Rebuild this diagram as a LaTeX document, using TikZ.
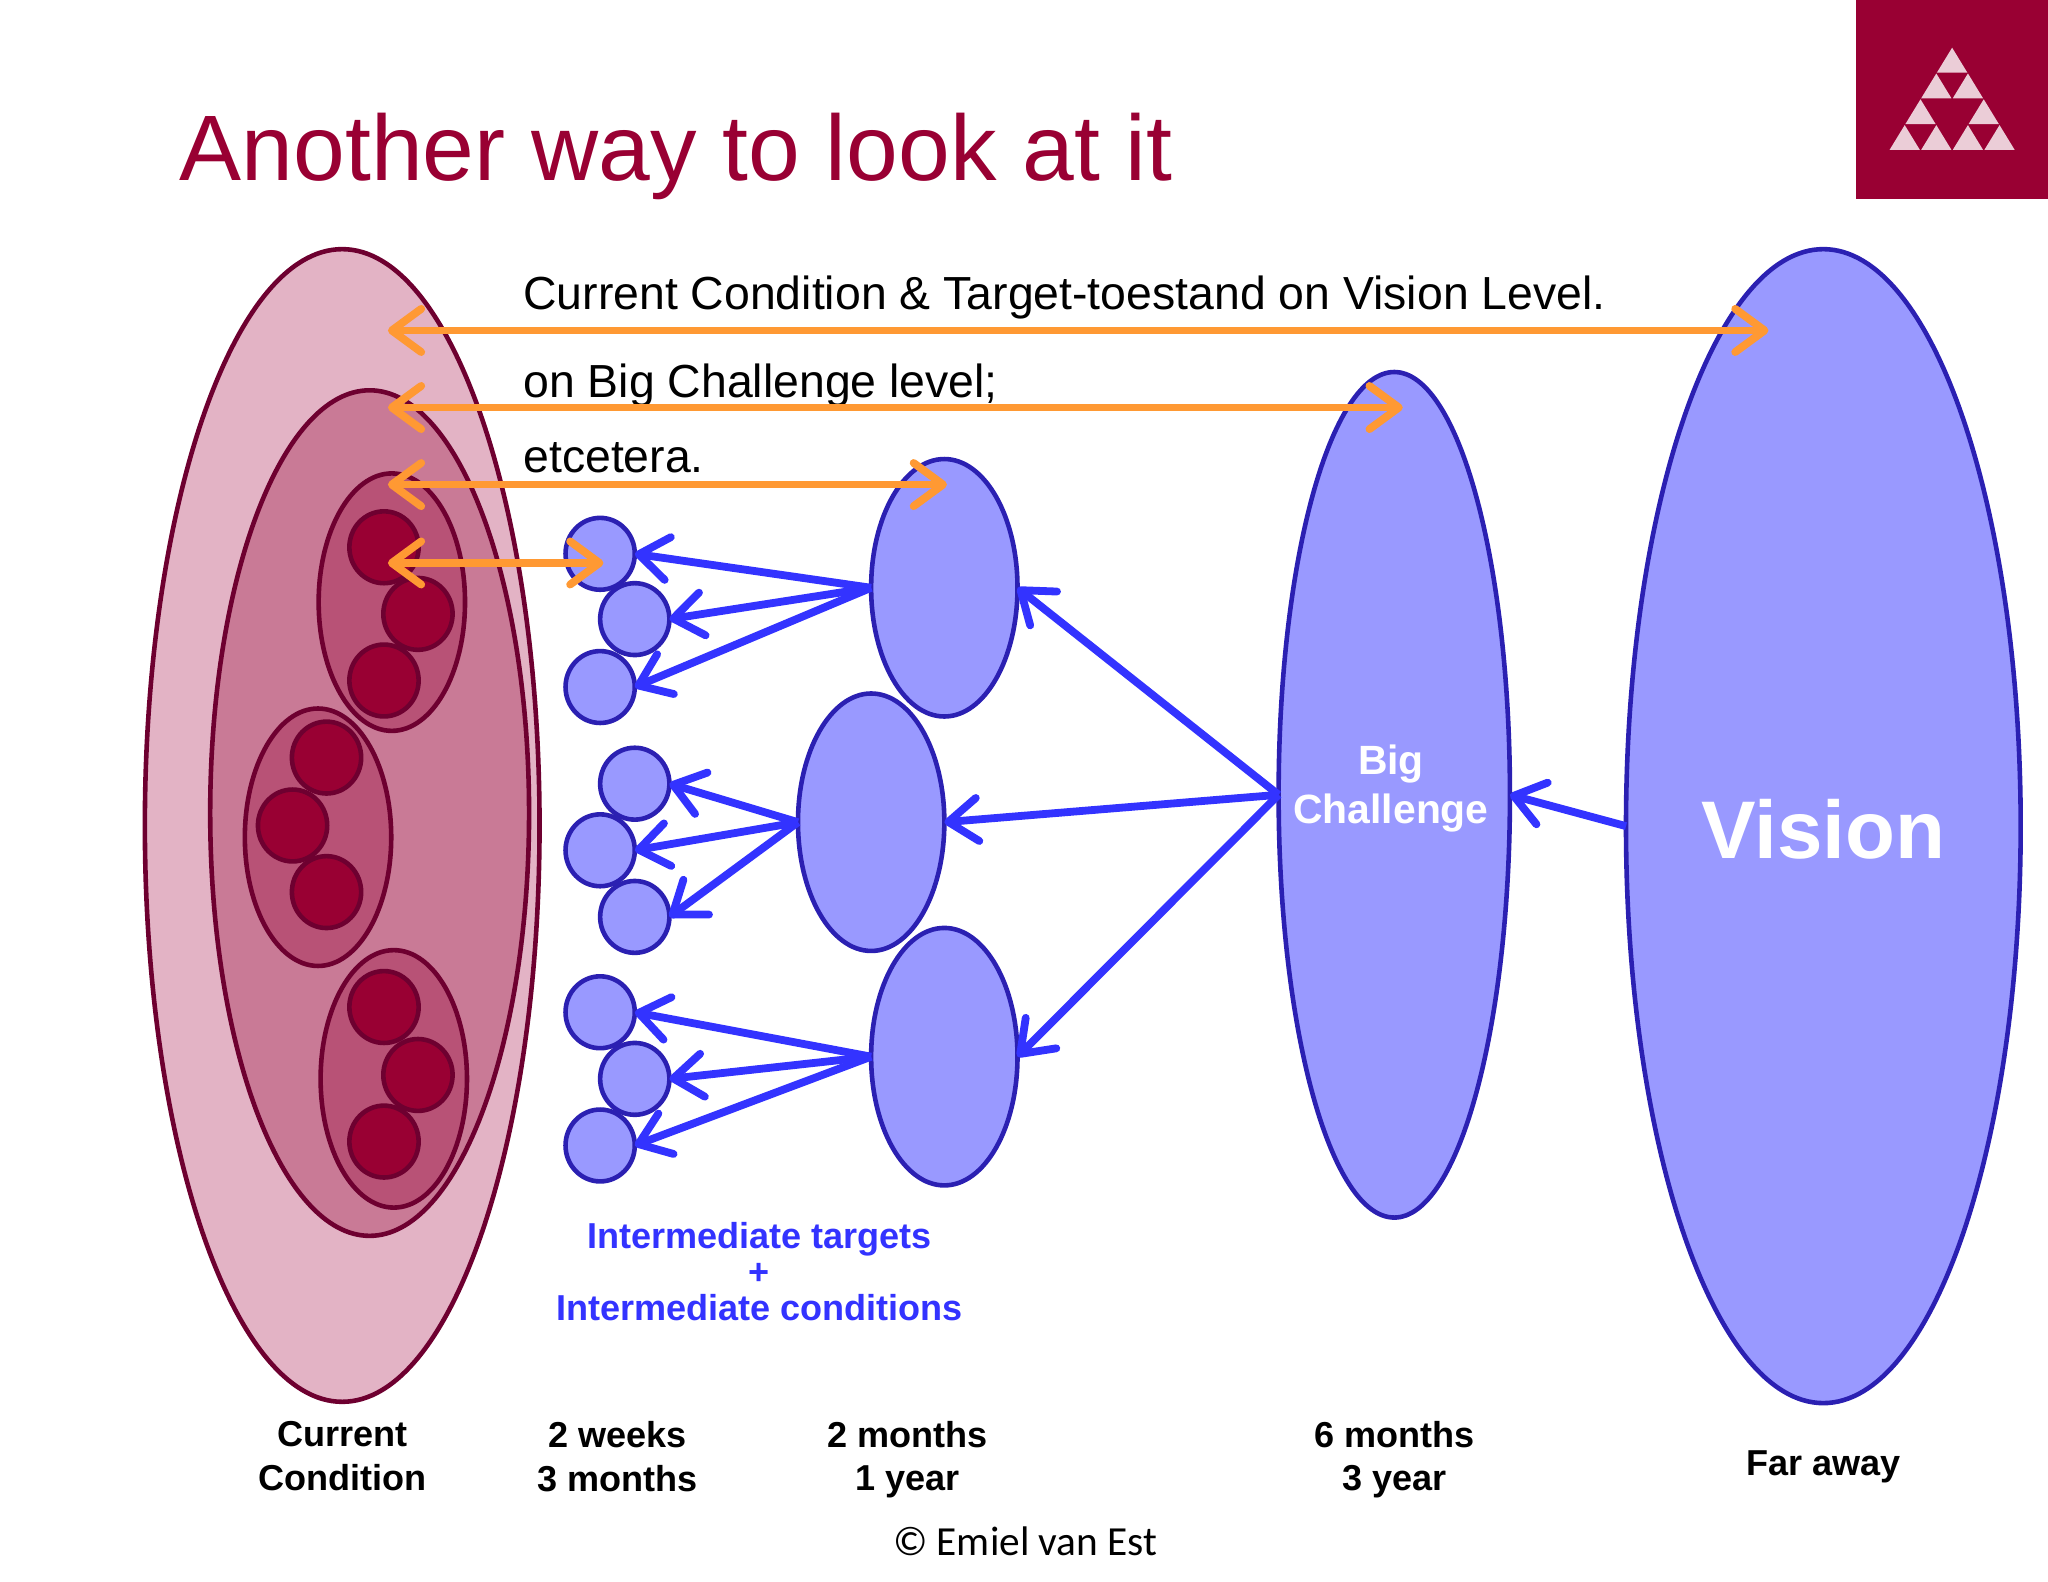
\documentclass[tikz,border=0pt]{standalone}
\usepackage{fontspec}
\setmainfont{Liberation Sans}
\newfontfamily\signfont{Carlito}
\usetikzlibrary{shapes.geometric,arrows.meta}

\definecolor{wine}{RGB}{153,0,51}
\definecolor{wineline}{RGB}{110,0,48}
\definecolor{rosea}{RGB}{227,179,197}
\definecolor{roseb}{RGB}{201,122,150}
\definecolor{rosec}{RGB}{184,82,118}
\definecolor{logotri}{RGB}{235,205,215}
\definecolor{lilac}{RGB}{153,153,255}
\definecolor{lilacline}{RGB}{43,32,178}
\definecolor{goalblue}{RGB}{51,51,255}
\definecolor{gaporange}{RGB}{255,153,51}

\pgfdeclarearrow{
	name=Barbs,
	setup code={
		\pgfarrowssettipend{.85pt}
		\pgfarrowssetlineend{0pt}
		\pgfarrowssetbackend{-6.4pt}
	},
	drawing code={
		\pgfsetdash{}{0pt}
		\pgfsetroundcap
		\pgfsetroundjoin
		\pgfpathmoveto{\pgfpoint{-6.4pt}{4.7pt}}
		\pgfpathlineto{\pgfpointorigin}
		\pgfpathlineto{\pgfpoint{-6.4pt}{-4.7pt}}
		\pgfusepathqstroke
	}
}

\tikzset{
	blob/.style={ellipse,draw,inner sep=0pt,outer sep=0pt,line width=1pt},
	now/.style={blob,draw=wineline},
	goal/.style={blob,draw=lilacline,fill=lilac},
	tiny/.style={minimum width=0.53cm,minimum height=0.55cm},
	stage/.style={minimum width=1.12cm,minimum height=1.97cm},
	behaviour/.style={now,fill=wine,tiny},
	goalarrow/.style={draw=goalblue,line width=1.7pt,-Barbs},
	gaparrow/.style={draw=gaporange,line width=1.7pt,Barbs-Barbs},
	speech/.style={anchor=base west,inner sep=0pt,font=\fontsize{10.1}{12}\selectfont},
	when/.style={align=center,font=\fontsize{7.85}{9.5}\selectfont\bfseries},
}

\begin{document}
\begin{tikzpicture}[x=0.01cm,y=-0.01cm]
	\useasboundingbox (0,0) rectangle (1568,1211);

	% logo
	\fill[wine] (1421,0) rectangle (1568,152);
	\foreach \row/\col in {0/0,1/0,1/1,2/0,2/2,3/0,3/1,3/2,3/3}
		\fill[logotri] (1494.6+24.2*\col-12.1*\row,36.5+19.75*\row)
		-- ++(-11.6,19) -- ++(23.2,0) -- cycle;

	\node[anchor=base west,inner sep=0pt,text=wine,font=\fontsize{20.25}{24}\selectfont] (title)
		at (137,138) {Another way to look at it};

	% current condition
	\node[now,fill=rosea,minimum width=3.02cm,minimum height=8.82cm] (outer) at (262,632) {};
	\node[now,fill=roseb,minimum width=2.44cm,minimum height=6.47cm] (middle) at (283,622.5) {};
	\node[now,fill=rosec,stage] (inner1) at (300,461) {};
	\node[now,fill=rosec,stage] (inner2) at (243.5,641) {};
	\node[now,fill=rosec,stage] (inner3) at (301.5,826) {};
	\foreach \name/\x/\y in {b1/294/419,b2/320/470,b3/294/521,
		b4/250/580,b5/224/632,b6/250/683,
		b7/294/771,b8/320/823,b9/294/874}
		\node[behaviour] (\name) at (\x,\y) {};

	% targets
	\node[goal,minimum width=3.02cm,minimum height=8.83cm,text=white,text height=14pt,text depth=0pt,
		font=\fontsize{17.8}{20}\selectfont\bfseries] (vision) at (1396,632.5) {Vision};
	\node[goal,minimum width=1.77cm,minimum height=6.47cm] (big) at (1067.5,608.5) {};
	\node[text=white,align=center,font=\fontsize{8.9}{10.7}\selectfont\bfseries] (bigtext)
		at (1065,603.5) {Big\\Challenge};
	\node[goal,stage] (m1) at (723,450) {};
	\node[goal,stage] (m2) at (667,629.5) {};
	\node[goal,stage] (m3) at (723,809) {};
	\foreach \name/\x/\y in {s1/459.5/424,s2/486/474,s3/459.5/526,
		s4/486/600,s5/459.5/651,s6/486/702,
		s7/459.5/775,s8/486/826,s9/459.5/877}
		\node[goal,tiny] (\name) at (\x,\y) {};

	% arrows
	\draw[goalarrow] (vision.west) -- (big.east);
	\foreach \to in {m1,m2,m3}
		\draw[goalarrow] (big.west) -- (\to.east);
	\foreach \to in {s1,s2,s3}
		\draw[goalarrow] (m1.west) -- (\to.east);
	\foreach \to in {s4,s5,s6}
		\draw[goalarrow] (m2.west) -- (\to.east);
	\foreach \to in {s7,s8,s9}
		\draw[goalarrow] (m3.west) -- (\to.east);

	\node[speech] (line1) at (400,237) {Current Condition \& Target-toestand on Vision Level.};
	\node[speech] (line2) at (400,304) {on Big Challenge level;};
	\node[speech] (line3) at (400,362) {etcetera.};

	\coordinate (gap1a) at (297,253);
	\coordinate (gap1b) at (1354,253);
	\coordinate (gap2a) at (297,312);
	\coordinate (gap2b) at (1074,312);
	\coordinate (gap3a) at (297,371);
	\coordinate (gap3b) at (725,371);
	\coordinate (gap4a) at (297,431);
	\coordinate (gap4b) at (462,431);
	\foreach \i in {1,2,3,4}
		\draw[gaparrow] (gap\i a) -- (gap\i b);

	% texts below
	\node[align=center,text=goalblue,font=\fontsize{7.85}{7.85}\selectfont\bfseries] (between)
		at (581.5,973.5) {Intermediate targets\\+\\Intermediate conditions};
	\node[when] (t0) at (262,1115) {Current\\Condition};
	\node[when] (t1) at (473,1115) {2 weeks\\3 months};
	\node[when] (t2) at (695,1117.5) {2 months\\1 year};
	\node[when] (t3) at (1068,1117.5) {6 months\\3 year};
	\node[when] (t4) at (1396,1123) {Far away};
	\node[font=\fontsize{9}{10}\signfont] (maker) at (785,1180) {© Emiel van Est};
\end{tikzpicture}
\end{document}
